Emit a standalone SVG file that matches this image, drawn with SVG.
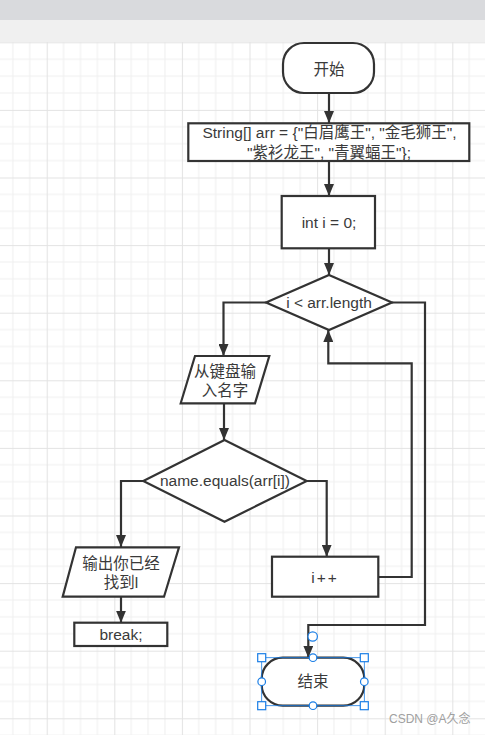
<svg xmlns="http://www.w3.org/2000/svg" width="485" height="735" viewBox="0 0 485 735">
<defs>
<style>
.n{fill:#fff;stroke:#333;stroke-width:2.2}
.c{fill:none;stroke:#333;stroke-width:2.2;marker-end:url(#ah)}
.t{font-family:"Liberation Sans","Noto Sans CJK SC",sans-serif;font-size:15.5px;fill:#3a3a3a;text-anchor:middle;dominant-baseline:central}
.sel{fill:#fff;stroke:#1a7ee6;stroke-width:1.2}
</style>
<marker id="ah" markerUnits="userSpaceOnUse" markerWidth="12" markerHeight="10" refX="12" refY="5" orient="auto" viewBox="0 0 12 10">
<path d="M0,0 L12,5 L0,10 z" fill="#333"/>
</marker>
<pattern id="grid" patternUnits="userSpaceOnUse" x="46.7" y="42.3" width="67.6" height="67.6">
<rect width="67.6" height="67.6" fill="#fff"/>
<path d="M16.9,0V67.6M33.8,0V67.6M50.7,0V67.6M0,16.9H67.6M0,33.8H67.6M0,50.7H67.6" stroke="#efefef" stroke-width="1"/>
<path d="M0.5,0V67.6M0,0.5H67.6" stroke="#e3e3e3" stroke-width="1"/>
</pattern>
</defs>
<rect x="0" y="0" width="485" height="20" fill="#d9dadd"/>
<rect x="0" y="20" width="485" height="22" fill="#f0f0f0"/>
<rect x="0" y="42" width="485" height="693" fill="url(#grid)"/>

<g id="connectors">
<path class="c" d="M329,93 V123"/>
<path class="c" d="M329,161 V196"/>
<path class="c" d="M329,248 V275"/>
<path class="c" d="M266,302.5 H223.5 V356"/>
<path class="c" d="M224,403.3 V440"/>
<path class="c" d="M143.3,481 H121 V547"/>
<path class="c" d="M121,597 V622.7"/>
<path class="c" d="M306.7,481 H326.7 V556.7"/>
<path class="c" d="M378.3,577 H411.7 V363.3 H328.3 V330"/>
<path class="c" d="M392,302.5 H425 V625 H308.3 V657.7"/>
</g>

<g id="start">
<rect class="n" x="283" y="43" width="91" height="50" rx="21"/>
<text class="t" x="329" y="69">开始</text>
</g>
<g id="arr">
<rect class="n" x="188.3" y="123.3" width="281" height="37.7"/>
<text class="t" x="329.5" y="132">String[] arr = {"白眉鹰王", "金毛狮王",</text>
<text class="t" x="329" y="152">"紫衫龙王", "青翼蝠王"};</text>
</g>
<g id="init">
<rect class="n" x="281.7" y="196" width="93.3" height="52.3"/>
<text class="t" x="329" y="222">int i = 0;</text>
</g>
<g id="cond">
<polygon class="n" points="329,275 392,302.5 329,330 266,302.5"/>
<text class="t" x="329" y="302">i &lt; arr.length</text>
</g>
<g id="input">
<polygon class="n" points="195,356 269.3,356 255,403.3 180.7,403.3"/>
<text class="t" x="225" y="371.7">从键盘输</text>
<text class="t" x="225" y="390">入名字</text>
</g>
<g id="equals">
<polygon class="n" points="224.5,440 306.7,481 224.5,521.7 143.3,481"/>
<text class="t" x="225" y="480.5">name.equals(arr[i])</text>
</g>
<g id="output">
<polygon class="n" points="76,547.3 179,547.3 164,596.7 62.7,596.7"/>
<text class="t" x="121" y="563.3">输出你已经</text>
<text class="t" x="121" y="582">找到l</text>
</g>
<g id="brk">
<rect class="n" x="74.3" y="622.7" width="93" height="23.3"/>
<text class="t" x="121" y="634.5">break;</text>
</g>
<g id="inc">
<rect class="n" x="272" y="556.7" width="106.3" height="40"/>
<text class="t" x="325" y="577" letter-spacing="2">i++</text>
</g>
<g id="end">
<rect class="n" x="261.7" y="657.7" width="102.6" height="48" rx="21"/>
<text class="t" x="313" y="681.7">结束</text>
<rect x="261.7" y="657.7" width="102.6" height="48" fill="none" stroke="#1a7ee6" stroke-width="0.8"/>
<circle class="sel" cx="312.7" cy="636.5" r="4.7"/>
<rect class="sel" x="257.7" y="653.7" width="8" height="8"/>
<rect class="sel" x="360.3" y="653.7" width="8" height="8"/>
<rect class="sel" x="257.7" y="701.7" width="8" height="8"/>
<rect class="sel" x="360.3" y="701.7" width="8" height="8"/>
<circle class="sel" cx="313" cy="657.7" r="3.8"/>
<circle class="sel" cx="313" cy="705.7" r="3.8"/>
<circle class="sel" cx="261.7" cy="681.7" r="3.8"/>
<circle class="sel" cx="364.3" cy="681.7" r="3.8"/>
</g>
<text x="389" y="723" font-family="Liberation Sans,Noto Sans CJK SC,sans-serif" font-size="12" fill="#a0a0a0">CSDN @A久念</text>
</svg>
